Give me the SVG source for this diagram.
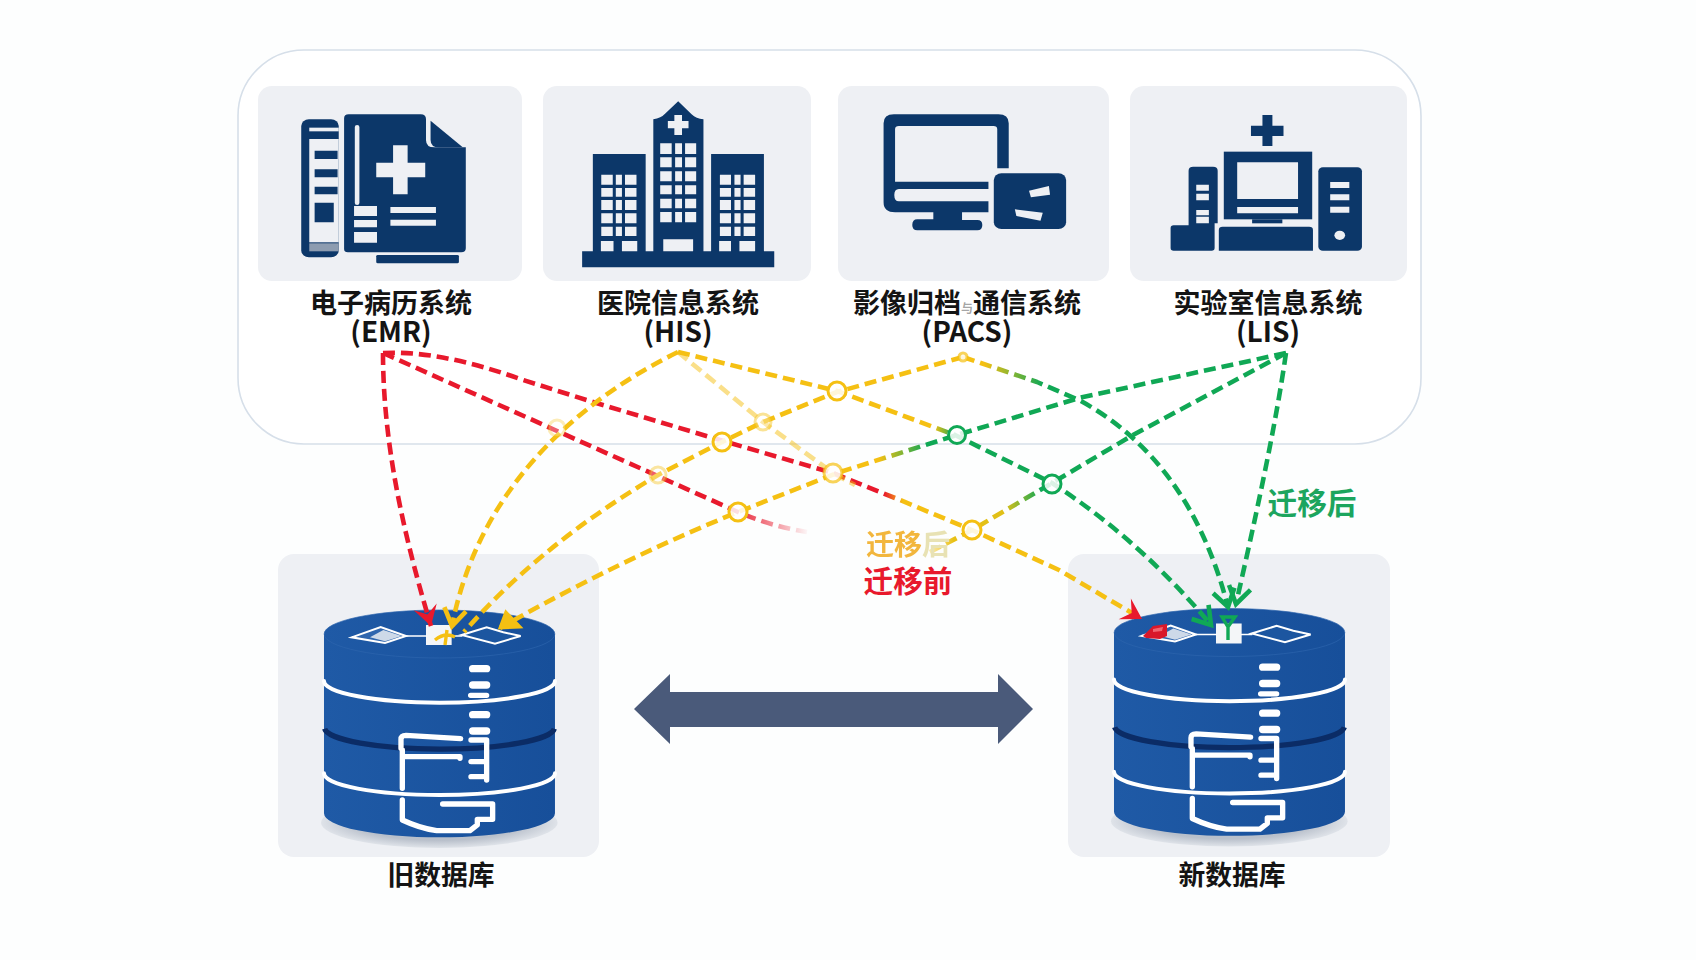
<svg xmlns="http://www.w3.org/2000/svg" width="1696" height="960" viewBox="0 0 1696 960">
<style>
text{font-family:"Noto Sans CJK SC","Noto Sans",sans-serif;font-weight:700;fill:#141414;text-anchor:middle}
.card{fill:#eef0f4}
.dk{fill:#0c3769}
.lt{fill:#eef0f4}
.c{fill:none;stroke-width:4.6;stroke-dasharray:12 6;stroke-linejoin:round}
.r{stroke:#e8192c}.y{stroke:#f5c013}.g{stroke:#10a855}
.j{fill:#fff;fill-opacity:.85;stroke-width:3}
.p{fill-opacity:.3}
.w{fill:none;stroke:#fff;stroke-linecap:round;stroke-linejoin:round}
</style>
<defs>
<filter id="soft"><feGaussianBlur stdDeviation=".7"/></filter>
<linearGradient id="body" x1="0" x2="1" y1="0" y2="0"><stop offset="0" stop-color="#1f5aa6"/><stop offset="1" stop-color="#174f9a"/></linearGradient>
<linearGradient id="gR2" gradientUnits="userSpaceOnUse" x1="383" x2="810" y1="0" y2="0"><stop offset="0" stop-color="#e8192c"/><stop offset=".82" stop-color="#e8192c"/><stop offset="1" stop-color="#e8192c" stop-opacity="0"/></linearGradient>
<linearGradient id="gR3" gradientUnits="userSpaceOnUse" x1="383" x2="1142" y1="0" y2="0"><stop offset=".66" stop-color="#e8192c"/><stop offset=".685" stop-color="#f5c013"/></linearGradient>
<linearGradient id="gY2" gradientUnits="userSpaceOnUse" x1="678" x2="1211" y1="0" y2="0"><stop offset=".48" stop-color="#f5c013"/><stop offset=".52" stop-color="#10a855"/></linearGradient>
<linearGradient id="gP" gradientUnits="userSpaceOnUse" x1="963" x2="1228" y1="0" y2="0"><stop offset=".08" stop-color="#f5c013"/><stop offset=".3" stop-color="#10a855"/></linearGradient>
<linearGradient id="gL1" gradientUnits="userSpaceOnUse" x1="503" x2="1286" y1="0" y2="0"><stop offset=".48" stop-color="#f5c013"/><stop offset=".54" stop-color="#10a855"/></linearGradient>
<linearGradient id="gL2" gradientUnits="userSpaceOnUse" x1="925" x2="1286" y1="0" y2="0"><stop offset="0" stop-color="#f5c013" stop-opacity=".2"/><stop offset=".08" stop-color="#e8c013"/><stop offset=".22" stop-color="#e0c018"/><stop offset=".32" stop-color="#10a855"/></linearGradient>
<radialGradient id="sh"><stop offset=".7" stop-color="#b9c0cb"/><stop offset="1" stop-color="#dfe3e9"/></radialGradient>
<marker id="aG" viewBox="-24 -16 28 32" refX="0" refY="0" markerWidth="28" markerHeight="32" markerUnits="userSpaceOnUse" orient="auto"><path d="M-17 -11L0 0L-17 11" fill="none" stroke="#10a855" stroke-width="4.6"/></marker>
<marker id="aY" viewBox="-24 -16 28 32" refX="0" refY="0" markerWidth="28" markerHeight="32" markerUnits="userSpaceOnUse" orient="auto"><path d="M-17 -11L0 0L-17 11" fill="none" stroke="#f5c013" stroke-width="4.6"/></marker>
<marker id="aYf" viewBox="-24 -16 28 32" refX="0" refY="0" markerWidth="28" markerHeight="32" markerUnits="userSpaceOnUse" orient="auto"><path d="M-18 -9L0 0L-13 11Z" fill="#f5c013" stroke="#f5c013" stroke-width="3"/></marker>
<marker id="aR" viewBox="-24 -16 28 32" refX="0" refY="0" markerWidth="28" markerHeight="32" markerUnits="userSpaceOnUse" orient="auto"><path d="M-20 -12L0 0L-20 12L-12 0Z" fill="#e8192c"/></marker>
<g id="dbcyl">
<ellipse cx="508" cy="818" rx="355" ry="76" fill="url(#sh)"/>
<path fill="url(#body)" d="M162 252V790A346 72 0 0 0 855 790V252Z"/>
<ellipse cx="508.5" cy="252" rx="346" ry="72" fill="url(#body)" stroke="#2d65ad" stroke-width="2"/>
<path class="w" stroke-width="12" d="M162 393A346 65 0 0 0 855 393"/>
<path fill="none" stroke="#0b2c66" stroke-width="16" d="M164 536A345 65 0 0 0 853 536"/>
<path class="w" stroke-width="12" d="M162 670A346 65 0 0 0 855 670"/>
<path fill="#2f66ae" stroke="#fff" stroke-width="6" d="M245 262L332 231L408 258L345 279Z"/>
<path fill="#cdd9e8" d="M300 262L340 240L395 258L345 274Z"/>
<path fill="#1c56a0" stroke="#fff" stroke-width="6" d="M575 255L650 232L700 247L752 258L675 281Z"/>
<rect x="468" y="225" width="77" height="60" fill="#f4f6f8"/>
<path class="w" stroke-width="5" d="M408 258H468M545 258H575"/>
<path stroke="#fff" stroke-width="22" stroke-linecap="round" d="M608 356H650M608 405H650M608 494H650M608 543H650"/>
<path class="w" stroke-width="16" d="M602 436H650M393 595V568Q393 556 408 556L572 566M397 620H570V625M397 600V715M397 750V810Q450 835 500 842H600L622 825V808H668V762H518M603 570H650V690M603 635H650M603 680H650"/>
</g>
</defs>
<rect width="1696" height="960" fill="#fdfefe"/>
<rect id="panel" x="238" y="50" width="1183" height="394" rx="66" fill="#fff" stroke="#d6dfe9" stroke-width="1.6"/>

<g id="emr">
<rect class="card" x="258" y="86" width="264" height="195" rx="14"/>
<g transform="translate(240 60) scale(.3827 .3333)">
<rect class="dk" x="160" y="178" width="98" height="414" rx="20"/>
<rect class="lt" x="181" y="237" width="77" height="310"/>
<rect class="lt" x="181" y="203" width="77" height="11"/>
<rect x="181" y="550" width="77" height="24" fill="#8d9cb0"/>
<path class="dk" d="M195 272H255V297H195ZM195 328H255V352H195ZM195 380H255V403H195ZM195 428H245V487H195Z"/>
<path class="dk" d="M272 175Q272 163 284 163H472Q486 163 486 177V240Q486 262 508 262H590V565Q590 577 578 577H282Q272 577 272 567Z"/>
<path class="dk" d="M498 182L582 262H520Q498 262 498 240Z"/>
<rect class="lt" x="300" y="195" width="12" height="240" rx="6"/>
<path class="lt" d="M400 256H438V308H484V352H438V403H400V352H356V308H400Z"/>
<path class="lt" d="M298 438H358V468H298ZM298 480H358V502H298ZM298 516H358V548H298ZM393 441H512V459H393ZM393 479H512V497H393Z"/>
<rect class="dk" x="356" y="585" width="216" height="25" rx="4"/>
</g>
<text x="391" y="313" font-size="27">电子病历系统</text>
<text x="391" y="342" font-size="28">(EMR)</text>
</g>

<g id="his">
<rect class="card" x="543" y="86" width="268" height="195" rx="14"/>
<g transform="translate(240 60) scale(.3827 .3333)">
<path class="dk" d="M894 574H922V282H1060V574H1080V178Q1100 175 1112 160L1145 124L1180 163Q1192 176 1211 178V574H1231V282H1369V574H1396V622H894Z"/>
<path class="lt" d="M1135 165H1155V183H1172V205H1155V225H1135V205H1118V183H1135Z"/>
<path class="lt" d="M1098 250h30v32h-30zM1137 250h18v32h-18zM1163 250h29v32h-29zM1098 292h30v30h-30zM1137 292h18v30h-18zM1163 292h29v30h-29zM1098 334h30v30h-30zM1137 334h18v30h-18zM1163 334h29v30h-29zM1098 376h30v27h-30zM1137 376h18v27h-18zM1163 376h29v27h-29zM1098 416h30v29h-30zM1137 416h18v29h-18zM1163 416h29v29h-29zM1098 456h30v31h-30zM1137 456h18v31h-18zM1163 456h29v31h-29zM1106 538h78v36h-78z"/>
<path class="lt" d="M944 344h30v30h-30zM982 344h16v30h-16zM1006 344h30v30h-30zM944 384h30v26h-30zM982 384h16v26h-16zM1006 384h30v26h-30zM944 420h30v30h-30zM982 420h16v30h-16zM1006 420h30v30h-30zM944 460h30v30h-30zM982 460h16v30h-16zM1006 460h30v30h-30zM944 500h30v28h-30zM982 500h16v28h-16zM1006 500h30v28h-30zM943 543h33v31h-33zM998 543h40v31h-40z"/>
<path class="lt" d="M1254 344h29v30h-29zM1292 344h16v30h-16zM1316 344h30v30h-30zM1254 384h29v26h-29zM1292 384h16v26h-16zM1316 384h30v26h-30zM1254 420h29v30h-29zM1292 420h16v30h-16zM1316 420h30v30h-30zM1254 460h29v30h-29zM1292 460h16v30h-16zM1316 460h30v30h-30zM1254 500h29v28h-29zM1292 500h16v28h-16zM1316 500h30v28h-30zM1252 543h31v31h-31zM1305 543h41v31h-41z"/>
</g>
<text x="678" y="313" font-size="27">医院信息系统</text>
<text x="678" y="342" font-size="28">(HIS)</text>
</g>

<g id="pacs">
<rect class="card" x="838" y="86" width="271" height="195" rx="14"/>
<g transform="translate(830 60) scale(.3827 .3333)">
<path class="dk" d="M140 190Q140 163 167 163H440Q467 163 467 190V325H437V208Q437 198 427 198H180Q170 198 170 208V365H414V387H180Q168 387 168 405Q168 424 180 424H414V457H345V480H385Q398 480 398 495Q398 511 385 511H228Q215 511 215 495Q215 478 228 478H270V457H170Q140 457 140 427Z"/>
<rect class="dk" x="428" y="340" width="189" height="167" rx="20"/>
<path class="lt" d="M520 392L572 378L575 404L525 412ZM483 448L556 458L550 482L487 468Z"/>
</g>
<text x="967" y="313" font-size="27">影像归档<tspan font-size="12" fill-opacity=".4">与</tspan>通信系统</text>
<text x="967" y="342" font-size="28">(PACS)</text>
</g>

<g id="lis">
<rect class="card" x="1130" y="86" width="277" height="195" rx="14"/>
<g transform="translate(830 60) scale(.3827 .3333)">
<path class="dk" d="M1130 165H1156V197H1185V228H1156V258H1130V228H1100V197H1130Z"/>
<rect class="dk" x="1029" y="275" width="231" height="203"/>
<path class="lt" d="M1064 307H1223V417H1064ZM1064 441H1223V460H1064Z"/>
<rect class="dk" x="1103" y="478" width="79" height="12"/>
<path class="dk" d="M1016 510Q1016 500 1026 500H1252Q1262 500 1262 510V572H1016Z"/>
<path class="dk" d="M937 332Q937 320 949 320H1001Q1013 320 1013 332V490H1005V564Q1005 572 997 572H898Q890 572 890 564V504Q890 496 898 496H937Z"/>
<path class="lt" d="M957 374h33v18h-33zM957 401h33v20h-33zM957 450h33v16h-33zM957 470h33v20h-33z"/>
<rect class="dk" x="1276" y="322" width="114" height="250" rx="12"/>
<path class="lt" d="M1307 366h50v18h-50zM1307 403h50v18h-50zM1307 440h50v18h-50z"/>
<circle class="lt" cx="1332" cy="526" r="14"/>
</g>
<text x="1268" y="313" font-size="27">实验室信息系统</text>
<text x="1268" y="342" font-size="28">(LIS)</text>
</g>

<g id="olddb">
<rect class="card" x="278" y="554" width="321" height="303" rx="16"/>
<use href="#dbcyl" transform="translate(270 550) scale(.3333)"/>
<text x="441" y="885" font-size="26.8">旧数据库</text>
</g>
<g id="newdb">
<rect class="card" x="1068" y="554" width="322" height="303" rx="16"/>
<use href="#dbcyl" transform="translate(1060 548.5) scale(.3333)"/>
<path fill="#d9182a" d="M1143 636L1153 626L1167 624L1167 636L1160 639L1146 638Z"/>
<path fill="#ef6570" d="M1153 629L1163 627L1162 631L1153 632Z"/>
<path fill="none" stroke="#10a855" stroke-width="3.4" d="M1222 617L1228 627L1235 617ZM1228 627V640"/>
<text x="1232" y="885" font-size="26.8">新数据库</text>
</g>

<g id="connectors">
<path class="c r" marker-end="url(#aR)" d="M383 353C383 440 402 530 431 626"/>
<path class="c" stroke="url(#gR2)" d="M383 353L738 512Q770 526 807 532"/>
<path class="c" stroke="url(#gR3)" marker-end="url(#aR)" d="M383 353Q440 350 523 380L593 402L713 438L833 473L900 500L972 530L1059 570L1142 619"/>
<path class="c y" marker-end="url(#aY)" d="M678 352C590 395 480 480 452 626"/>
<path class="c" stroke="url(#gY2)" marker-end="url(#aG)" d="M678 352L837 391L955 435L1052 483Q1140 540 1211 625"/>
<path class="c y" stroke-opacity=".5" d="M678 352L763 422L833 473L855 485"/>
<path class="c y" d="M963 357L837 392L763 422L722 442L658 475Q540 545 464 632"/>
<path class="c" stroke="url(#gP)" marker-end="url(#aG)" d="M963 357L1037 382L1079 400Q1190 460 1228 607"/>
<path class="c" stroke="url(#gL1)" marker-end="url(#aYf)" d="M1286 353L1079 398L957 435L837 473L738 512Q620 560 500 628"/>
<path class="c" stroke="url(#gL2)" d="M1286 353L1133 435L1052 483L972 530L928 553"/>
<path class="c g" marker-end="url(#aG)" d="M1286 353C1275 430 1255 520 1236 604"/>
<g stroke="#f5c013">
<circle class="j" cx="837" cy="391" r="9"/>
<circle class="j" cx="722" cy="442" r="9"/>
<circle class="j" cx="738" cy="512" r="9"/>
<circle class="j" cx="972" cy="530" r="9"/>
<circle class="j" cx="833" cy="473" r="9" stroke-opacity=".7"/>
<circle class="j p" cx="763" cy="422" r="8" stroke-opacity=".45"/>
<circle class="j p" cx="658" cy="475" r="8" stroke-opacity=".4"/>
<circle class="j p" cx="557" cy="428" r="8" stroke-opacity=".3"/>
<circle class="j" cx="963" cy="357" r="4" stroke-opacity=".7"/>
</g>
<g stroke="#10a855">
<circle class="j" cx="957" cy="435" r="8.5"/>
<circle class="j" cx="1052" cy="484" r="9"/>
</g>
<path fill="none" stroke="#f5c013" stroke-width="3.4" d="M435 640Q445 632 455 637M447 630L445 645"/>
</g>

<g id="migration">
<path fill="#4a5a7a" d="M634 709L670 674V692H998V674L1033 709L998 744V727H670V744Z"/>
</g>
<g id="labels">
<text x="1312" y="514" font-size="29.6" style="fill:#1ca55e">迁移后</text>
<text x="908" y="592" font-size="29.6" style="fill:#e8192c">迁移前</text>
<text x="908" y="555" font-size="28" filter="url(#soft)" style="fill:#f2b63c">迁移<tspan style="fill:#e8e2b4">后</tspan></text>
</g>
</svg>
